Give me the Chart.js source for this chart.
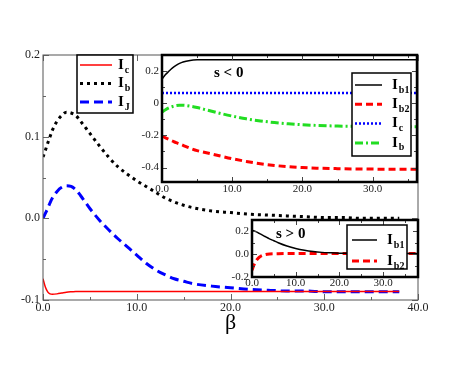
<!DOCTYPE html>
<html>
<head>
<meta charset="utf-8">
<script src="https://cdn.jsdelivr.net/npm/chart.js@4"></script>
<style>
html, body { margin: 0; padding: 0; background: #fff; }
#wrap { position: relative; width: 474px; height: 366px; }
#wrap canvas { position: absolute; left: 0; top: 0; }
</style>
</head>
<body>
<div id="wrap">
  <canvas id="mainChart" width="474" height="366"></canvas>
  <canvas id="insetNeg" width="474" height="366"></canvas>
  <canvas id="insetPos" width="474" height="366"></canvas>
</div>
<script>
// ---- main panel data ----
const betaMain = [0, 0.25, 0.5, 0.75, 1, 1.5, 2, 2.5, 3, 3.5, 4, 5, 6, 7, 8, 9, 10, 11, 12, 13, 14, 15, 16, 18, 20, 22, 24, 26, 28, 30, 32, 34, 36, 38];
const mainIc = [-0.074, -0.084, -0.090, -0.0925, -0.093, -0.0925, -0.0915, -0.0905, -0.090, -0.0897, -0.0895, -0.0895, -0.0895, -0.0895, -0.0895, -0.0895, -0.0895, -0.0895, -0.0895, -0.0895, -0.0895, -0.0895, -0.0895, -0.0895, -0.0895, -0.0895, -0.0895, -0.0895, -0.0895, -0.0895, -0.0895, -0.0895, -0.0895, -0.0895];
const mainIb = [0.075, 0.083, 0.092, 0.100, 0.108, 0.119, 0.126, 0.130, 0.129, 0.126, 0.119, 0.104, 0.089, 0.075, 0.063, 0.054, 0.046, 0.039, 0.032, 0.025, 0.020, 0.016, 0.013, 0.009, 0.007, 0.005, 0.004, 0.003, 0.002, 0.001, 0.001, 0.0, 0.0, 0.0];
const mainIJ = [0, 0.006, 0.012, 0.019, 0.025, 0.033, 0.038, 0.040, 0.039, 0.035, 0.028, 0.012, -0.002, -0.014, -0.025, -0.035, -0.045, -0.055, -0.063, -0.069, -0.074, -0.077, -0.080, -0.083, -0.085, -0.087, -0.088, -0.089, -0.089, -0.090, -0.090, -0.090, -0.090, -0.090];
const mainXTicks = [0, 10, 20, 30, 40];
const mainYTicks = [-0.1, 0, 0.1, 0.2];

// ---- inset s < 0 ----
const betaNeg = [0, 0.5, 1, 1.5, 2, 2.5, 3, 4, 5, 6, 8, 10, 12, 14, 16, 18, 20, 22, 25, 28, 31, 34, 37];
const negIb1 = [0.15, 0.178, 0.2, 0.22, 0.235, 0.248, 0.257, 0.266, 0.27, 0.271, 0.271, 0.271, 0.271, 0.271, 0.271, 0.271, 0.271, 0.271, 0.271, 0.271, 0.271, 0.271, 0.271];
const negIb2 = [-0.205, -0.215, -0.225, -0.235, -0.245, -0.253, -0.262, -0.28, -0.295, -0.305, -0.325, -0.345, -0.362, -0.376, -0.387, -0.395, -0.4, -0.404, -0.407, -0.409, -0.41, -0.41, -0.411];
const negIc = [0.063, 0.063, 0.063, 0.063, 0.063, 0.063, 0.063, 0.063, 0.063, 0.063, 0.063, 0.063, 0.063, 0.063, 0.063, 0.063, 0.063, 0.063, 0.063, 0.063, 0.063, 0.063, 0.063];
const negIb = [-0.055, -0.04, -0.028, -0.02, -0.015, -0.013, -0.013, -0.018, -0.027, -0.038, -0.06, -0.08, -0.097, -0.11, -0.12, -0.128, -0.134, -0.138, -0.142, -0.144, -0.145, -0.146, -0.146];
const negXTicks = [0, 10, 20, 30];
const negYTicks = [-0.4, -0.2, 0, 0.2];

// ---- inset s > 0 ----
const betaPos = [0, 0.5, 1, 1.5, 2, 3, 4, 5, 6, 8, 10, 12, 14, 16, 18, 20, 25, 30, 35, 38];
const posIb1 = [0.21, 0.205, 0.196, 0.186, 0.176, 0.155, 0.135, 0.118, 0.101, 0.072, 0.05, 0.034, 0.023, 0.016, 0.012, 0.009, 0.007, 0.006, 0.006, 0.006];
const posIb2 = [-0.14, -0.09, -0.055, -0.032, -0.018, -0.004, 0.002, 0.004, 0.005, 0.006, 0.006, 0.006, 0.006, 0.006, 0.006, 0.006, 0.006, 0.006, 0.006, 0.006];
const posXTicks = [0, 10, 20, 30];
const posYTicks = [-0.2, 0, 0.2];

const pts = (xs, ys) => xs.map((x, i) => ({x: x, y: ys[i]}));

Chart.defaults.font.family = '"Liberation Serif", "Times New Roman", serif';
Chart.defaults.color = '#222';

// frame, inward ticks, boxed legend with subscripts, note text
const decor = {
    id: 'decor',
    beforeDraw(chart, args, o) {
        if (!o.fillArea) return;
        const a = chart.chartArea, ctx = chart.ctx;
        ctx.save();
        ctx.fillStyle = '#fff';
        ctx.fillRect(a.left, a.top, a.width, a.height);
        ctx.restore();
    },
    afterDraw(chart, args, o) {
        const ctx = chart.ctx, a = chart.chartArea;
        const xs = chart.scales.x, ys = chart.scales.y;
        ctx.save();
        ctx.setLineDash([]);
        ctx.strokeStyle = o.tickColor;
        ctx.lineWidth = 1;

        const tickSet = (scale) => {
            const vals = scale.ticks.map(t => t.value);
            const step = vals[1] - vals[0];
            const minor = [];
            for (let v = vals[0] - step / 2; v >= scale.min - 1e-9; v -= step) minor.push(v);
            for (let v = vals[0] + step / 2; v <= scale.max + 1e-9; v += step) minor.push(v);
            return {major: vals, minor: minor};
        };
        const tx = tickSet(xs), ty = tickSet(ys);
        ctx.beginPath();
        [[tx.major, o.major], [tx.minor, o.minor]].forEach(([vals, len]) => {
            vals.forEach(v => {
                const p = Math.round(xs.getPixelForValue(v)) + 0.5;
                ctx.moveTo(p, a.bottom); ctx.lineTo(p, a.bottom - len);
                ctx.moveTo(p, a.top); ctx.lineTo(p, a.top + len);
            });
        });
        [[ty.major, o.major], [ty.minor, o.minor]].forEach(([vals, len]) => {
            vals.forEach(v => {
                const p = Math.round(ys.getPixelForValue(v)) + 0.5;
                ctx.moveTo(a.left, p); ctx.lineTo(a.left + len, p);
                ctx.moveTo(a.right, p); ctx.lineTo(a.right - len, p);
            });
        });
        ctx.stroke();

        ctx.strokeStyle = o.frameColor;
        ctx.lineWidth = o.frameWidth;
        ctx.strokeRect(a.left, a.top, a.width, a.height);

        // legend
        const L = o.legend;
        ctx.fillStyle = '#fff';
        ctx.fillRect(L.x, L.y, L.w, L.h);
        ctx.strokeStyle = '#000';
        ctx.lineWidth = L.border;
        ctx.strokeRect(L.x, L.y, L.w, L.h);
        chart.data.datasets.forEach((ds, i) => {
            const y = L.y + L.row0 + i * L.rowH;
            ctx.save();
            ctx.strokeStyle = ds.borderColor;
            ctx.lineWidth = ds.borderWidth;
            ctx.setLineDash(ds.borderDash || []);
            ctx.beginPath();
            ctx.moveTo(L.x + L.lx0, y);
            ctx.lineTo(L.x + L.lx1, y);
            ctx.stroke();
            ctx.restore();
            const parts = ds.label.split('_');
            ctx.fillStyle = '#000';
            ctx.textBaseline = 'middle';
            ctx.textAlign = 'left';
            ctx.font = L.font;
            ctx.fillText(parts[0], L.x + L.tx, y);
            const w = ctx.measureText(parts[0]).width;
            ctx.font = L.subFont;
            ctx.fillText(parts[1], L.x + L.tx + w + 1, y + 5);
        });

        if (o.note) {
            ctx.fillStyle = '#000';
            ctx.font = o.note.font;
            ctx.textBaseline = 'middle';
            ctx.textAlign = 'left';
            ctx.fillText(o.note.text, o.note.x, o.note.y);
        }
        ctx.restore();
    }
};

function lineSet(label, data, color, width, dash) {
    return {
        label: label,
        data: data,
        borderColor: color,
        backgroundColor: color,
        borderWidth: width,
        borderDash: dash,
        pointRadius: 0,
        fill: false,
        cubicInterpolationMode: 'monotone'
    };
}

function axes(xTicks, yTicks, xr, yr, yw, xh, xFmt, yFmt, fontSize, pad, title) {
    return {
        x: {
            type: 'linear', min: xr[0], max: xr[1],
            grid: {display: false, drawTicks: false},
            border: {display: false},
            afterBuildTicks: s => { s.ticks = xTicks.map(v => ({value: v})); },
            afterFit: s => { s.height = xh; },
            ticks: {callback: xFmt, font: {size: fontSize}, padding: pad, maxRotation: 0, autoSkip: false},
            title: title
        },
        y: {
            type: 'linear', min: yr[0], max: yr[1],
            grid: {display: false, drawTicks: false},
            border: {display: false},
            afterBuildTicks: s => { s.ticks = yTicks.map(v => ({value: v})); },
            afterFit: s => { s.width = yw; },
            ticks: {callback: yFmt, font: {size: fontSize}, padding: 3, autoSkip: false}
        }
    };
}

const fmt1 = v => v.toFixed(1);
const baseOpts = {responsive: false, animation: false, events: []};

new Chart(document.getElementById('mainChart'), {
    type: 'line',
    data: {
        datasets: [
            lineSet('I_c', pts(betaMain, mainIc), '#ff0000', 1.5, []),
            lineSet('I_b', pts(betaMain, mainIb), '#000000', 3, [3, 4]),
            lineSet('I_J', pts(betaMain, mainIJ), '#0000ff', 3, [9, 5])
        ]
    },
    options: Object.assign({}, baseOpts, {
        layout: {padding: {left: 0, right: 56, top: 55, bottom: 30}},
        scales: axes(mainXTicks, mainYTicks, [0, 40], [-0.1, 0.2], 43, 36, fmt1, fmt1, 12, 1,
            {display: true, text: 'β', font: {size: 22}, color: '#000', padding: {top: 0, bottom: 0}}),
        plugins: {
            legend: {display: false},
            tooltip: {enabled: false},
            decor: {
                tickColor: '#666', frameColor: '#555', frameWidth: 1, major: 6, minor: 3,
                legend: {x: 77, y: 55, w: 56, h: 58, row0: 10, rowH: 18.5, lx0: 3, lx1: 35, tx: 41, border: 1.5,
                    font: 'bold 15px "Liberation Serif"', subFont: 'bold 10px "Liberation Serif"'}
            }
        }
    }),
    plugins: [decor]
});

new Chart(document.getElementById('insetNeg'), {
    type: 'line',
    data: {
        datasets: [
            lineSet('I_b1', pts(betaNeg, negIb1), '#000000', 1.5, []),
            lineSet('I_b2', pts(betaNeg, negIb2), '#ff0000', 3, [7, 4]),
            lineSet('I_c', pts(betaNeg, negIc), '#0000ff', 2.5, [2, 2]),
            lineSet('I_b', pts(betaNeg, negIb), '#22dd22', 3, [8, 3, 2, 3])
        ]
    },
    options: Object.assign({}, baseOpts, {
        layout: {padding: {left: 122, right: 57, top: 55, bottom: 166}},
        scales: axes(negXTicks, negYTicks, [0, 36.3], [-0.49, 0.3], 40, 18, fmt1,
            v => (v === 0 ? '0' : v.toFixed(1)), 11, 1, {display: false}),
        plugins: {
            legend: {display: false},
            tooltip: {enabled: false},
            decor: {
                fillArea: true, tickColor: '#444', frameColor: '#000', frameWidth: 2.5, major: 5, minor: 3,
                legend: {x: 352, y: 73, w: 59, h: 83, row0: 12, rowH: 19.3, lx0: 3, lx1: 30, tx: 40, border: 1.5,
                    font: 'bold 15px "Liberation Serif"', subFont: 'bold 10px "Liberation Serif"'},
                note: {text: 's < 0', x: 214, y: 73, font: 'bold 15px "Liberation Serif"'}
            }
        }
    }),
    plugins: [decor]
});

new Chart(document.getElementById('insetPos'), {
    type: 'line',
    data: {
        datasets: [
            lineSet('I_b1', pts(betaPos, posIb1), '#000000', 1.5, []),
            lineSet('I_b2', pts(betaPos, posIb2), '#ff0000', 3, [7, 4])
        ]
    },
    options: Object.assign({}, baseOpts, {
        layout: {padding: {left: 222, right: 56, top: 220, bottom: 73}},
        scales: axes(posXTicks, posYTicks, [0, 38], [-0.2, 0.3], 30, 16, fmt1, fmt1, 11, 0, {display: false}),
        plugins: {
            legend: {display: false},
            tooltip: {enabled: false},
            decor: {
                fillArea: true, tickColor: '#444', frameColor: '#000', frameWidth: 2.5, major: 5, minor: 3,
                legend: {x: 347, y: 225, w: 60, h: 44, row0: 15, rowH: 21, lx0: 5, lx1: 30, tx: 40, border: 1.5,
                    font: 'bold 15px "Liberation Serif"', subFont: 'bold 10px "Liberation Serif"'},
                note: {text: 's > 0', x: 276, y: 234, font: 'bold 15px "Liberation Serif"'}
            }
        }
    }),
    plugins: [decor]
});
</script>
</body>
</html>
